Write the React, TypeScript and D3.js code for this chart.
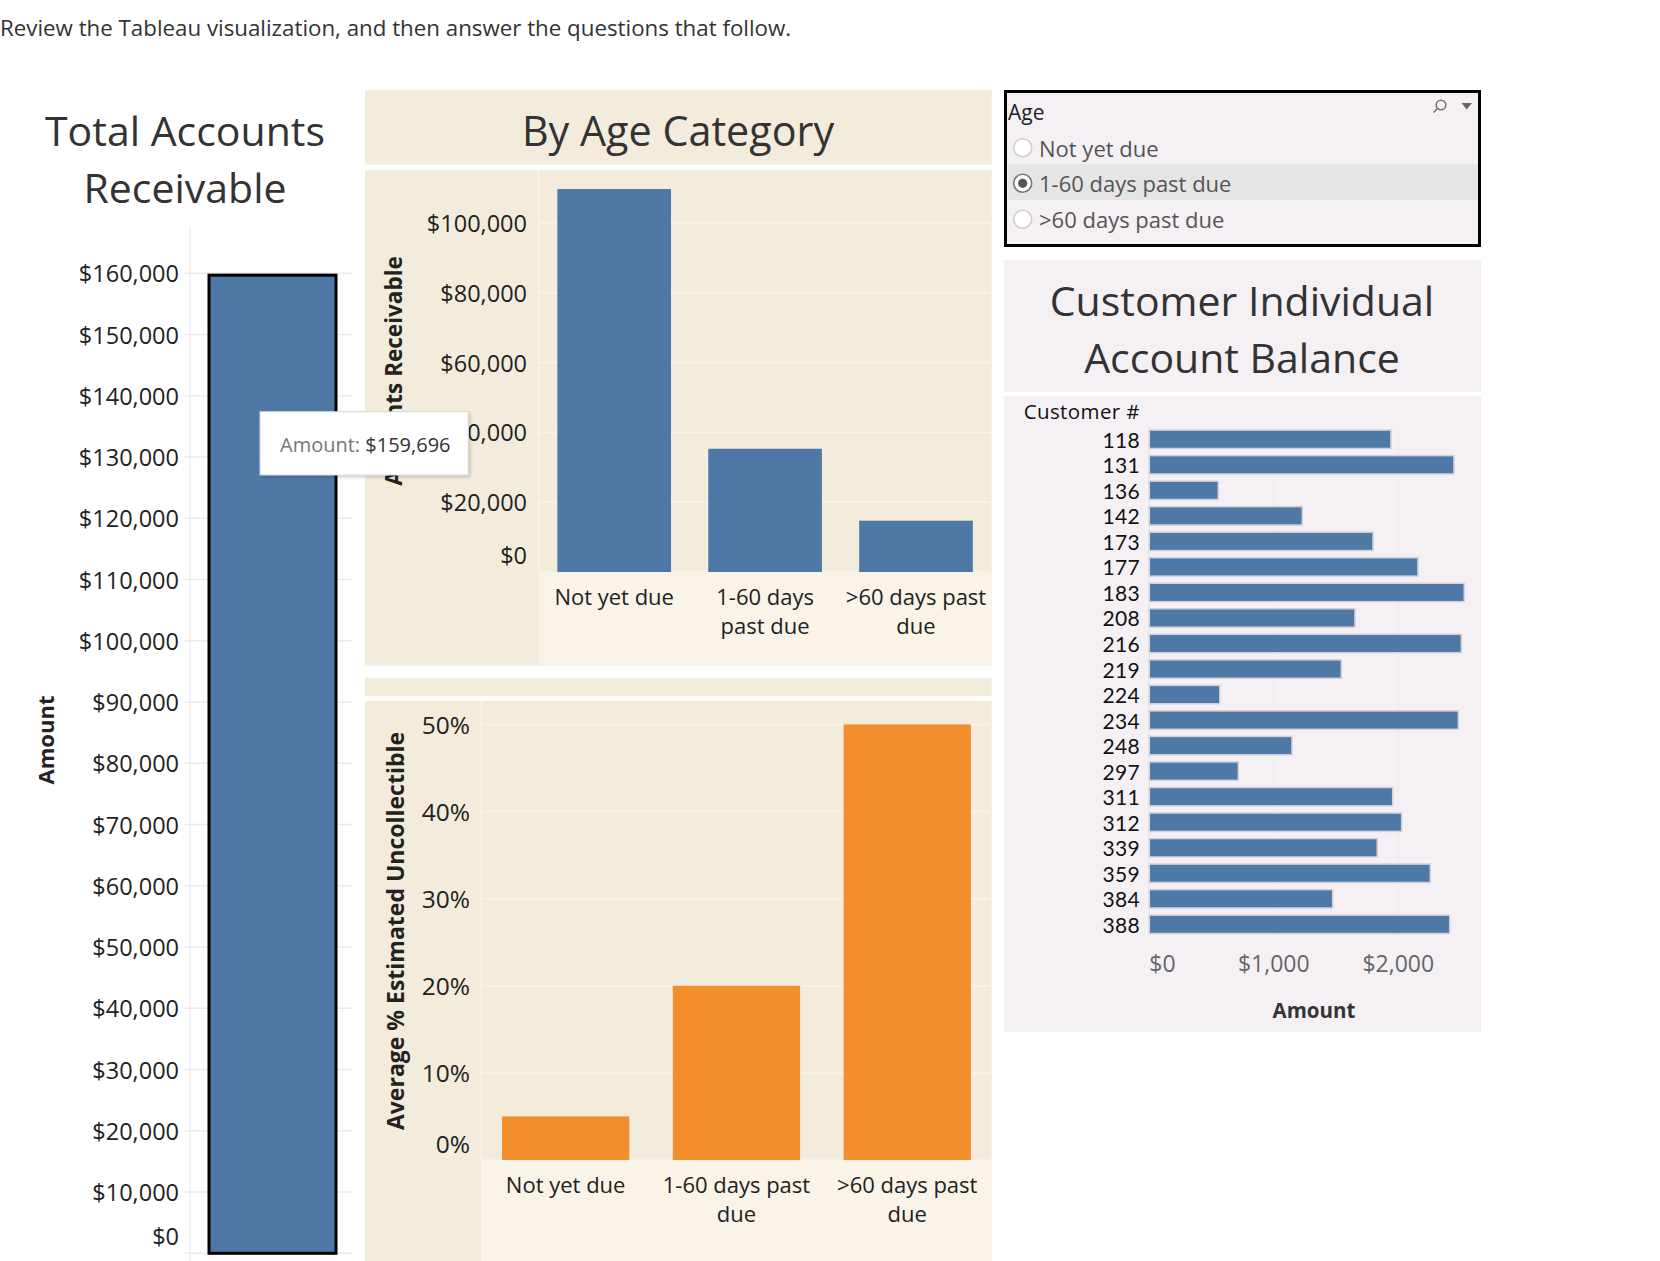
import React from "react";
import * as d3 from "d3";

// ---------- data ----------
const totalAmount = 159696;
const leftTicks = [0, 10000, 20000, 30000, 40000, 50000, 60000, 70000, 80000, 90000, 100000, 110000, 120000, 130000, 140000, 150000, 160000];

const ageCategories = ["Not yet due", "1-60 days past due", ">60 days past due"];
const ageAmounts = [109700, 35300, 14700];
const ageAmountTicks = [0, 20000, 40000, 60000, 80000, 100000];
const ageTopLabels = [["Not yet due"], ["1-60 days", "past due"], [">60 days past", "due"]];

const uncollectiblePct = [0.05, 0.2, 0.5];
const pctTicks = [0, 0.1, 0.2, 0.3, 0.4, 0.5];
const ageBottomLabels = [["Not yet due"], ["1-60 days past", "due"], [">60 days past", "due"]];

const customers = ["118", "131", "136", "142", "173", "177", "183", "208", "216", "219", "224", "234", "248", "297", "311", "312", "339", "359", "384", "388"];
const customerAmounts = [1941, 2447, 554, 1229, 1797, 2158, 2530, 1652, 2506, 1542, 566, 2482, 1146, 715, 1955, 2027, 1831, 2257, 1473, 2413];
const customerTicks = [0, 1000, 2000];

const filterOptions = ["Not yet due", "1-60 days past due", ">60 days past due"];
const selectedOption = "1-60 days past due";

// ---------- style ----------
const FONT = "'Open Sans', Lato, sans-serif";
const FONT_TIGHT = "Lato, 'Open Sans', sans-serif";
const BLUE = "#4e79a7";
const ORANGE = "#f28e2b";
const CREAM = "#f3ebdc";
const CREAM_LIGHT = "#f9f3e8";
const PINK = "#f5f0f4";
const GRID = "#ebebeb";
const GRID_CREAM = "#f8f4ec";
const TICK_SIZE = 23.5;

const fmtMoney = d3.format("$,.0f");
const fmtPct = d3.format(".0%");

export default function App() {
  // left chart
  const yLeft = d3.scaleLinear().domain([0, 160000]).range([1253.3, 273.3]);

  // middle top
  const midX0 = 365, midX1 = 991.7;
  const yMid = d3.scaleLinear().domain([0, 100000]).range([572, 222.9]);
  const xMid = d3.scaleBand<string>().domain(ageCategories).range([538.5, 991.7]).paddingInner(0.247).paddingOuter(0.125);

  // middle bottom
  const yPct = d3.scaleLinear().domain([0, 0.5]).range([1160, 724.4]);
  const xPct = d3.scaleBand<string>().domain(ageCategories).range([481.2, 991.7]).paddingInner(0.255).paddingOuter(0.122);

  // customer chart
  const xCust = d3.scaleLinear().domain([0, 1000]).range([1149.3, 1273.8]);
  const yCust = d3.scaleBand<string>().domain(customers).range([426.5, 426.5 + 25.53 * customers.length]).paddingInner(0.28).paddingOuter(0.14);

  const filterRows = [147.7, 183.3, 219.3];

  return (
    <svg width={1660} height={1261} style={{ position: "absolute", left: 0, top: 0, background: "#fff" }} fontFamily={FONT}>
      <defs>
        <filter id="shadow" x="-20%" y="-20%" width="140%" height="150%">
          <feDropShadow dx="1.5" dy="2" stdDeviation="1.5" floodColor="#000" floodOpacity="0.18" />
        </filter>
      </defs>
      <rect x={0} y={0} width={1660} height={1261} fill="#fff" />

      {/* page caption */}
      <text x={0} y={27.6} dominantBaseline="central" fontSize={22.3} fill="#333">
        Review the Tableau visualization, and then answer the questions that follow.
      </text>

      {/* ---------- Left: total AR ---------- */}
      <text x={185} y={130} textAnchor="middle" dominantBaseline="central" fontSize={41} fill="#333">Total Accounts</text>
      <text x={185} y={186.7} textAnchor="middle" dominantBaseline="central" fontSize={41} fill="#333">Receivable</text>
      <line x1={190} x2={190} y1={227} y2={1261} stroke="#f0f0f0" strokeWidth={1.5} />
      {leftTicks.map((t) => (
        <line key={t} x1={184} x2={352.7} y1={yLeft(t)} y2={yLeft(t)} stroke={GRID} strokeWidth={1.5} />
      ))}
      <rect x={209} y={yLeft(totalAmount)} width={127} height={yLeft(0) - yLeft(totalAmount)} fill={BLUE} stroke="#000" strokeWidth={3} />
      {leftTicks.map((t) => (
        <text key={t} x={179} y={t === 0 ? yLeft(t) - 17 : yLeft(t)} textAnchor="end" dominantBaseline="central" fontSize={TICK_SIZE} fill="#222">
          {fmtMoney(t)}
        </text>
      ))}
      <text transform={`translate(45,740) rotate(-90)`} textAnchor="middle" dominantBaseline="central" fontSize={22} fontWeight="bold" fill="#222">Amount</text>

      {/* ---------- Middle top ---------- */}
      <rect x={midX0} y={90} width={midX1 - midX0} height={74.6} fill={CREAM} />
      <text x={678} y={130} textAnchor="middle" dominantBaseline="central" fontSize={41.3} fill="#333">By Age Category</text>
      <rect x={midX0} y={170} width={midX1 - midX0} height={495.5} fill={CREAM} />
      <rect x={538.5} y={572} width={midX1 - 538.5} height={93.5} fill={CREAM_LIGHT} />
      <line x1={538.5} x2={538.5} y1={170} y2={572} stroke={GRID_CREAM} strokeWidth={1.5} />
      {ageAmountTicks.map((t) => (
        <line key={t} x1={538.5} x2={midX1} y1={yMid(t)} y2={yMid(t)} stroke={GRID_CREAM} strokeWidth={1.5} />
      ))}
      {ageCategories.map((c, i) => (
        <rect key={c} x={xMid(c)} y={yMid(ageAmounts[i])} width={xMid.bandwidth()} height={yMid(0) - yMid(ageAmounts[i])} fill={BLUE} />
      ))}
      {ageAmountTicks.map((t) => (
        <text key={t} x={527} y={t === 0 ? yMid(t) - 17 : yMid(t)} textAnchor="end" dominantBaseline="central" fontSize={TICK_SIZE} fill="#222">
          {fmtMoney(t)}
        </text>
      ))}
      {ageCategories.map((c, i) => (
        <text key={c} textAnchor="middle" fontSize={22} fill="#222">
          {ageTopLabels[i].map((line, j) => (
            <tspan key={j} x={(xMid(c) as number) + xMid.bandwidth() / 2} y={596 + j * 28.6} dominantBaseline="central">{line}</tspan>
          ))}
        </text>
      ))}
      <text transform={`translate(393.4,371) rotate(-90)`} textAnchor="middle" dominantBaseline="central" fontSize={22.5} fontWeight="bold" fill="#222">Accounts Receivable</text>

      {/* strip */}
      <rect x={midX0} y={678} width={midX1 - midX0} height={18} fill={CREAM} />

      {/* ---------- Middle bottom ---------- */}
      <rect x={midX0} y={701} width={midX1 - midX0} height={560} fill={CREAM} />
      <rect x={481.2} y={1160} width={midX1 - 481.2} height={101} fill={CREAM_LIGHT} />
      <line x1={481.2} x2={481.2} y1={701} y2={1160} stroke={GRID_CREAM} strokeWidth={1.5} />
      {pctTicks.map((t) => (
        <line key={t} x1={481.2} x2={midX1} y1={yPct(t)} y2={yPct(t)} stroke={GRID_CREAM} strokeWidth={1.5} />
      ))}
      {ageCategories.map((c, i) => (
        <rect key={c} x={xPct(c)} y={yPct(uncollectiblePct[i])} width={xPct.bandwidth()} height={yPct(0) - yPct(uncollectiblePct[i])} fill={ORANGE} />
      ))}
      {pctTicks.map((t) => (
        <text key={t} x={470} y={t === 0 ? yPct(t) - 17 : yPct(t)} textAnchor="end" dominantBaseline="central" fontSize={24.5} fill="#222">
          {fmtPct(t)}
        </text>
      ))}
      {ageCategories.map((c, i) => (
        <text key={c} textAnchor="middle" fontSize={22} fill="#222">
          {ageBottomLabels[i].map((line, j) => (
            <tspan key={j} x={(xPct(c) as number) + xPct.bandwidth() / 2} y={1184 + j * 29.4} dominantBaseline="central">{line}</tspan>
          ))}
        </text>
      ))}
      <text transform={`translate(394.7,931) rotate(-90)`} textAnchor="middle" dominantBaseline="central" fontSize={23} fontWeight="bold" fill="#222">Average % Estimated Uncollectible</text>

      {/* ---------- Right: filter ---------- */}
      <rect x={1005.5} y={91.5} width={474} height={154} fill={PINK} stroke="#000" strokeWidth={3} />
      <rect x={1008} y={164} width={470} height={36} fill="#e5e5e5" />
      <text x={1008} y={112} dominantBaseline="central" fontSize={21} fill="#222">Age</text>
      <g stroke="#777" strokeWidth={1.6} fill="none">
        <circle cx={1441} cy={105} r={4.8} />
        <line x1={1437.6} y1={108.4} x2={1433.5} y2={112.5} />
      </g>
      <path d="M1461.5,103 L1472,103 L1466.75,109.5 Z" fill="#666" />
      {filterOptions.map((o, i) => (
        <g key={o}>
          <circle cx={1022.7} cy={filterRows[i]} r={9} fill="#fff" stroke={o === selectedOption ? "#777" : "#cfcfcf"} strokeWidth={1.6} />
          {o === selectedOption && <circle cx={1022.7} cy={filterRows[i]} r={4.6} fill="#555" />}
          <text x={1039} y={filterRows[i]} dominantBaseline="central" fontSize={22} fill="#555">{o}</text>
        </g>
      ))}

      {/* customer title */}
      <rect x={1004} y={260} width={477} height={131.7} fill={PINK} />
      <text x={1242} y={300} textAnchor="middle" dominantBaseline="central" fontSize={41} fill="#333">Customer Individual</text>
      <text x={1242} y={356.7} textAnchor="middle" dominantBaseline="central" fontSize={41} fill="#333">Account Balance</text>

      {/* customer chart */}
      <rect x={1004} y={396} width={477} height={635.7} fill={PINK} />
      <text x={1140} y={410.5} textAnchor="end" dominantBaseline="central" fontSize={20.5} letterSpacing={0.4} fill="#111">Customer #</text>
      {customerTicks.map((t) => (
        <line key={t} x1={xCust(t)} x2={xCust(t)} y1={426.5} y2={937} stroke={t === 0 ? "#e6e2e6" : "#efebef"} strokeWidth={1.2} />
      ))}
      {customers.map((c, i) => (
        <g key={c}>
          <rect x={xCust(0)} y={yCust(c)} width={xCust(customerAmounts[i]) - xCust(0)} height={yCust.bandwidth()} fill={BLUE} stroke="#d3d0d8" strokeWidth={1.5} />
          <text x={1140} y={(yCust(c) as number) + yCust.bandwidth() / 2} textAnchor="end" dominantBaseline="central" fontFamily={FONT_TIGHT} fontSize={21} letterSpacing={0.3} fill="#111">{c}</text>
        </g>
      ))}
      {customerTicks.map((t) => (
        <text key={t} x={xCust(t)} y={963} textAnchor={t === 0 ? "start" : "middle"} dominantBaseline="central" fontSize={23} fill="#666">
          {fmtMoney(t)}
        </text>
      ))}
      <text x={1314} y={1010} textAnchor="middle" dominantBaseline="central" fontSize={20.5} fontWeight="bold" fill="#333">Amount</text>

      {/* tooltip */}
      <rect x={260} y={411.7} width={208.3} height={63.3} fill="#fff" stroke="#d6d6d6" strokeWidth={1} filter="url(#shadow)" />
      <text x={280} y={444} dominantBaseline="central" fontSize={20}>
        <tspan fill="#777">Amount: </tspan>
        <tspan fill="#333">{fmtMoney(totalAmount)}</tspan>
      </text>
    </svg>
  );
}
